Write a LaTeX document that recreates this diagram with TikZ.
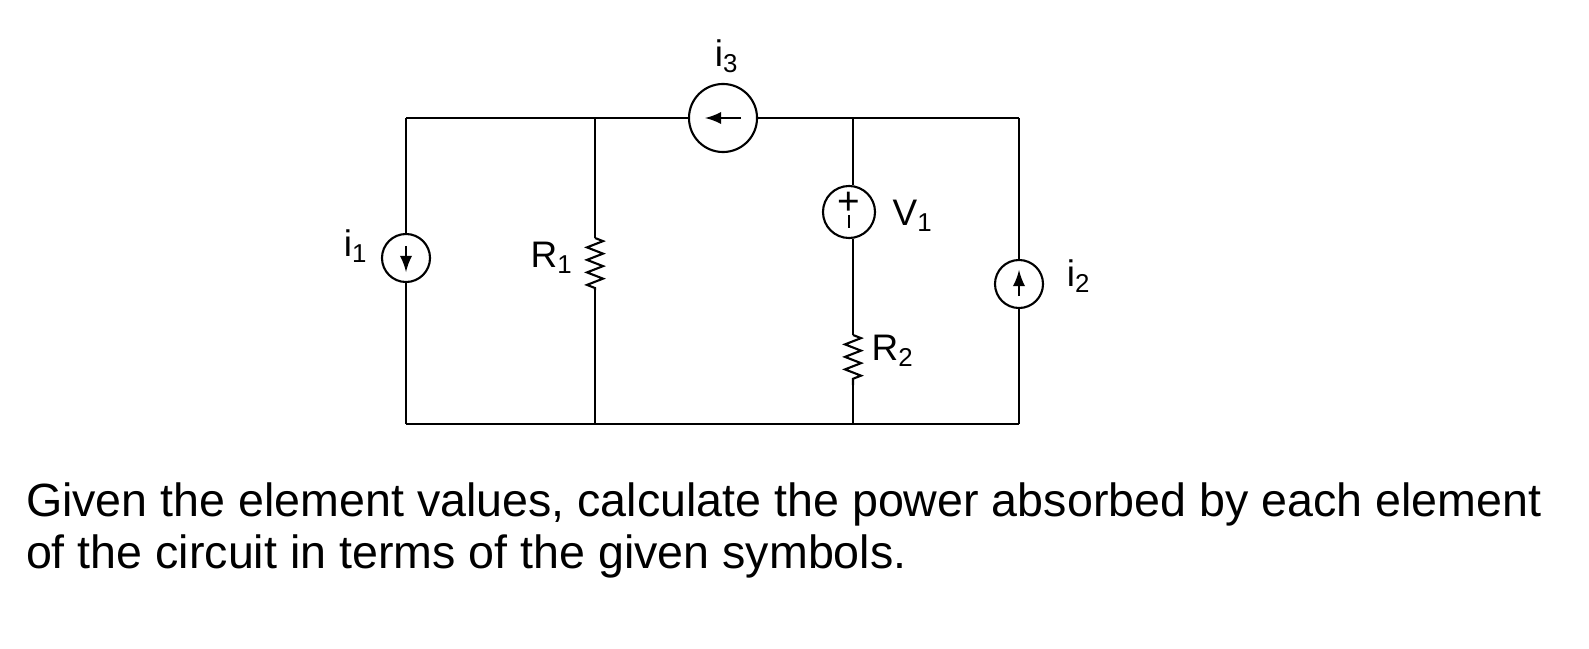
\documentclass[tikz,border=0pt]{standalone}
\usepackage{fontspec}
\setmainfont{Liberation Sans}
\usetikzlibrary{decorations.pathmorphing}
\tikzset{
  src/.style={draw, circle, minimum size=1.3cm, inner sep=0pt},
  res/.style={decorate, decoration={zigzag, segment length=0.125cm, amplitude=0.08cm}},
  lbl/.style={font=\fontsize{10.5}{10.5}\selectfont, inner sep=0pt},
  tip/.style={-latex, line width=0.6pt, shorten >=0pt},
}
\begin{document}
\begin{tikzpicture}[x=0.01cm, y=0.01cm, line width=0.6pt]
  \useasboundingbox (0,0) rectangle (1589,648);
  % corners of the circuit
  \coordinate (tl) at (406,530);
  \coordinate (ta) at (595,530);
  \coordinate (tb) at (853,530);
  \coordinate (tr) at (1019,530);
  \coordinate (bl) at (406,224);
  \coordinate (ba) at (595,224);
  \coordinate (bb) at (853,224);
  \coordinate (br) at (1019,224);
  % sources
  \node [src, minimum size=0.48cm] (i1) at (406,390) {};
  \node [src, minimum size=0.68cm] (i3) at (723,530) {};
  \node [src, minimum size=0.52cm] (v1) at (849,436) {};
  \node [src, minimum size=0.48cm] (i2) at (1019,364) {};
  % resistor ends
  \coordinate (r1a) at (595,410);
  \coordinate (r1b) at (595,358);
  \coordinate (r2a) at (853,313);
  \coordinate (r2b) at (853,263);
  % wires
  \draw (tl) -- (i3.west);
  \draw (i3.east) -- (tr);
  \draw (bl) -- (br);
  \draw (tl) -- (i1.north);
  \draw (i1.south) -- (bl);
  \draw (ta) -- (r1a);
  \draw [res] (r1a) -- (r1b);
  \draw (r1b) -- (ba);
  \draw (tb) -- (tb |- v1.north);
  \draw (tb |- v1.south) -- (r2a);
  \draw [res] (r2a) -- (r2b);
  \draw (r2b) -- (bb);
  \draw (tr) -- (i2.north);
  \draw (i2.south) -- (br);
  % arrows and signs inside the sources
  \draw [tip] ([yshift=0.12cm]i1.center) -- ([yshift=-0.14cm]i1.center);
  \draw [tip] ([yshift=-0.12cm]i2.center) -- ([yshift=0.14cm]i2.center);
  \draw [tip] ([xshift=0.18cm]i3.center) -- ([xshift=-0.18cm]i3.center);
  \node [font=\fontsize{11}{11}\selectfont, inner sep=0pt] (vp) at ([yshift=0.09cm]v1.center) {+};
  \draw ([yshift=-0.03cm]v1.center) -- ([yshift=-0.16cm]v1.center);
  % labels
  \node [lbl] (ti3) at (727,592) {i\textsubscript{3}};
  \node [lbl] (tv1) at (913,432) {V\textsubscript{1}};
  \node [lbl] (ti1) at (356,402) {i\textsubscript{1}};
  \node [lbl] (tr1) at (552,390) {R\textsubscript{1}};
  \node [lbl] (ti2) at (1079,372) {i\textsubscript{2}};
  \node [lbl] (tr2) at (893,297) {R\textsubscript{2}};
  \node [anchor=north west, align=left, inner sep=0pt,
    font=\fontsize{13.25}{14.8}\selectfont] (task) at (25,166)
    {Given the element values, calculate the power absorbed by each element\\
     of the circuit in terms of the given symbols.};
\end{tikzpicture}
\end{document}
